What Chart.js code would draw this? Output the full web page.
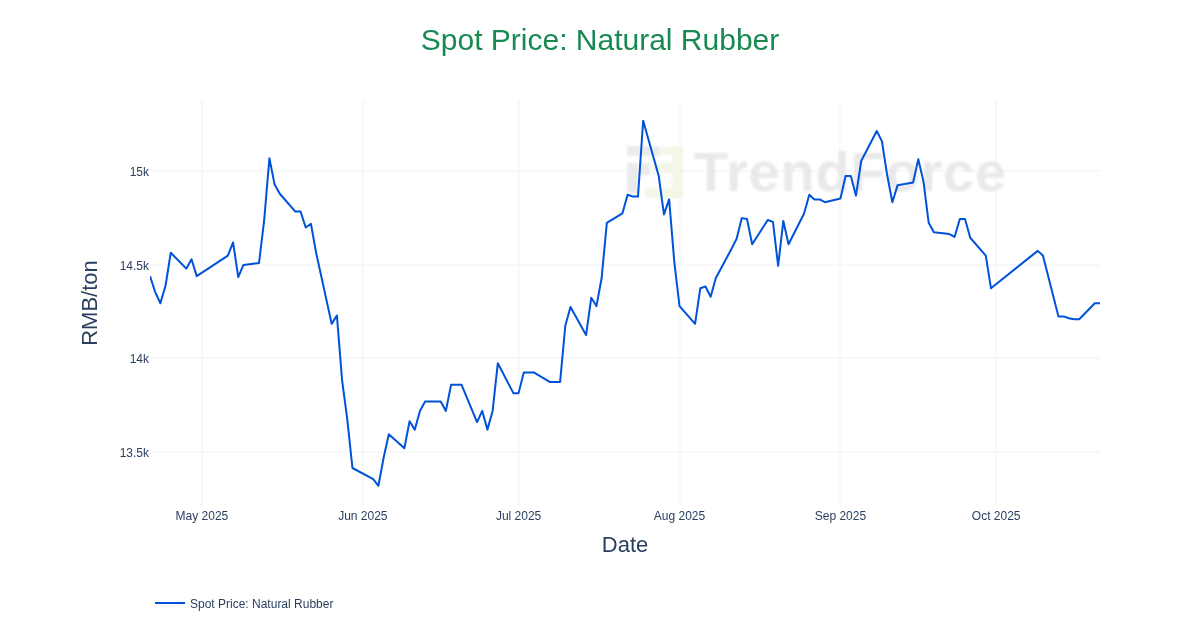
<!DOCTYPE html>
<html>
<head>
<meta charset="utf-8">
<title>Spot Price: Natural Rubber</title>
<style>
  html, body { margin: 0; padding: 0; background: #fff; }
  #wrap { width: 1200px; height: 630px; }
</style>
<script src="https://cdn.jsdelivr.net/npm/chart.js@4"></script>
</head>
<body>
<div id="wrap"><canvas id="chart" width="1200" height="630"></canvas></div>
<script>
// Trading days and daily spot prices (RMB/ton)
const dates = [
  "2025-04-21","2025-04-22","2025-04-23","2025-04-24","2025-04-25","2025-04-28","2025-04-29","2025-04-30",
  "2025-05-06","2025-05-07","2025-05-08","2025-05-09","2025-05-12","2025-05-13","2025-05-14","2025-05-15","2025-05-16",
  "2025-05-19","2025-05-20","2025-05-21","2025-05-22","2025-05-23","2025-05-26","2025-05-27","2025-05-28","2025-05-29","2025-05-30",
  "2025-06-03","2025-06-04","2025-06-05","2025-06-06","2025-06-09","2025-06-10","2025-06-11","2025-06-12","2025-06-13",
  "2025-06-16","2025-06-17","2025-06-18","2025-06-19","2025-06-20","2025-06-23","2025-06-24","2025-06-25","2025-06-26","2025-06-27",
  "2025-06-30","2025-07-01","2025-07-02","2025-07-03","2025-07-04","2025-07-07","2025-07-08","2025-07-09","2025-07-10","2025-07-11",
  "2025-07-14","2025-07-15","2025-07-16","2025-07-17","2025-07-18","2025-07-21","2025-07-22","2025-07-23","2025-07-24","2025-07-25",
  "2025-07-28","2025-07-29","2025-07-30","2025-07-31","2025-08-01","2025-08-04","2025-08-05","2025-08-06","2025-08-07","2025-08-08",
  "2025-08-11","2025-08-12","2025-08-13","2025-08-14","2025-08-15","2025-08-18","2025-08-19","2025-08-20","2025-08-21","2025-08-22",
  "2025-08-25","2025-08-26","2025-08-27","2025-08-28","2025-08-29","2025-09-01","2025-09-02","2025-09-03","2025-09-04","2025-09-05",
  "2025-09-08","2025-09-09","2025-09-10","2025-09-11","2025-09-12","2025-09-15","2025-09-16","2025-09-17","2025-09-18","2025-09-19",
  "2025-09-22","2025-09-23","2025-09-24","2025-09-25","2025-09-26","2025-09-29","2025-09-30",
  "2025-10-09","2025-10-10","2025-10-13","2025-10-14","2025-10-15","2025-10-16","2025-10-17","2025-10-20","2025-10-21"
];
const prices = [
  14440,14355,14295,14390,14565,14480,14530,14440,
  14550,14620,14435,14500,14510,14740,15070,14930,14880,
  14785,14785,14700,14720,14565,14185,14230,13885,13675,13415,
  13355,13320,13470,13595,13520,13665,13620,13720,13770,
  13770,13720,13860,13860,13860,13660,13720,13620,13720,13975,
  13815,13815,13925,13925,13925,13875,13875,13875,14175,14275,
  14125,14325,14280,14430,14725,14775,14875,14865,14865,15270,
  14975,14770,14850,14515,14280,14185,14375,14385,14330,14430,
  14585,14640,14750,14745,14610,14740,14730,14495,14735,14610,
  14775,14875,14850,14850,14835,14855,14975,14975,14870,15055,
  15215,15160,14980,14835,14925,14940,15065,14945,14725,14675,
  14665,14650,14745,14745,14645,14550,14375,
  14575,14550,14225,14225,14215,14210,14210,14295,14295
];
const monthTicks = ["2025-05-01","2025-06-01","2025-07-01","2025-08-01","2025-09-01","2025-10-01"];
const monthLabels = ["May 2025","Jun 2025","Jul 2025","Aug 2025","Sep 2025","Oct 2025"];
const priceTicks = [13500,14000,14500,15000];
const priceTickLabels = ["13.5k","14k","14.5k","15k"];
const seriesName = "Spot Price: Natural Rubber";

const FONT = '"Liberation Sans", Arial, sans-serif';
const INK = "#2a3f5f";
const LINE = "#0052d9";
const GRID = "#f8f8fa";
const ts = d => Date.parse(d + "T00:00:00Z");

// Legend swatch: a 2px line sitting slightly above the text's centre
function makeSwatch() {
  const s = document.createElement("canvas");
  s.width = 31; s.height = 8;
  const g = s.getContext("2d");
  g.fillStyle = LINE;
  g.fillRect(1, 1, 30, 2);
  return s;
}

// Faint company mark sitting behind the price line
const brandMark = {
  id: "brandMark",
  beforeDatasetsDraw(chart) {
    const c = chart.ctx;
    c.save();
    c.filter = "blur(1.2px)";
    c.fillStyle = "#ebebeb";
    c.fillRect(627, 146, 33, 10);
    c.fillRect(627, 163, 11, 30);
    c.fillRect(640, 163, 10, 12);
    c.fillStyle = "#f3f7e8";
    c.fillRect(660, 147, 23, 8);
    c.fillRect(652, 163, 31, 10);
    c.fillRect(672, 147, 11, 51);
    c.fillRect(645, 188, 38, 10);
    c.fillStyle = "#e9e9e9";
    c.font = "bold 56px " + FONT;
    c.letterSpacing = "0.8px";
    c.textAlign = "left";
    c.textBaseline = "alphabetic";
    c.fillText("TrendForce", 694, 191);
    c.restore();
  }
};

// Free the title and legend from the plot's side margins
const placeBlocks = {
  id: "placeBlocks",
  afterLayout(chart) {
    const t = chart.titleBlock;
    t.left = 0; t.right = 1200; t.width = 1200;
    const l = chart.legend;
    l.left = 145; l.right = 500; l.width = 355;
    const h = l.height;
    l.top = 605 - h / 2; l.bottom = l.top + h;
  },
  // Value labels sit a little below their grid lines
  beforeDraw(chart) {
    chart.scales.y.getLabelItems().forEach(item => {
      if (!item.options.nudged) {
        item.options.translation = [item.options.translation[0], item.options.translation[1] + 1.5];
        item.options.nudged = true;
      }
    });
  }
};

new Chart(document.getElementById("chart"), {
  type: "line",
  data: {
    datasets: [{
      label: seriesName,
      data: dates.map((d, i) => ({ x: ts(d), y: prices[i] })),
      borderColor: LINE,
      backgroundColor: LINE,
      borderWidth: 2,
      pointRadius: 0,
      tension: 0,
      borderJoinStyle: "round",
      fill: false
    }]
  },
  plugins: [brandMark, placeBlocks],
  options: {
    responsive: false,
    animation: false,
    layout: { padding: { left: 77.5, right: 100, top: 0, bottom: 0 } },
    plugins: {
      tooltip: { enabled: false },
      title: {
        display: true,
        text: seriesName,
        color: "#178a52",
        font: { family: FONT, size: 30, weight: "normal", lineHeight: 1.2 },
        padding: { top: 24, bottom: 40 }
      },
      legend: {
        position: "bottom",
        align: "start",
        labels: {
          usePointStyle: true,
          pointStyle: makeSwatch(),
          pointStyleWidth: 29,
          padding: 10,
          color: INK,
          font: { family: FONT, size: 12 }
        }
      }
    },
    scales: {
      x: {
        type: "linear",
        min: ts("2025-04-21"),
        max: ts("2025-10-21"),
        afterFit(s) { s.height = 92; },
        afterBuildTicks(s) { s.ticks = monthTicks.map(d => ({ value: ts(d) })); },
        grid: { color: GRID, lineWidth: 2, drawTicks: false },
        border: { display: false },
        title: {
          display: true,
          text: "Date",
          color: INK,
          font: { family: FONT, size: 22, weight: "normal", lineHeight: 1.2 },
          padding: { top: 0, bottom: 39 }
        },
        ticks: {
          autoSkip: false,
          maxRotation: 0,
          padding: 3,
          color: INK,
          font: { family: FONT, size: 12 },
          callback(v) { return monthLabels[monthTicks.findIndex(d => ts(d) === v)]; }
        }
      },
      y: {
        min: 13212,
        max: 15381,
        afterFit(s) { s.width = 72.5; },
        afterBuildTicks(s) { s.ticks = priceTicks.map(v => ({ value: v })); },
        grid: { color: GRID, lineWidth: 2, drawTicks: false },
        border: { display: false },
        title: {
          display: true,
          text: "RMB/ton",
          color: INK,
          font: { family: FONT, size: 22, weight: "normal", lineHeight: 1.2 },
          padding: { top: 0, bottom: 0 }
        },
        ticks: {
          padding: 1,
          color: INK,
          font: { family: FONT, size: 12 },
          callback(v) { return priceTickLabels[priceTicks.indexOf(v)]; }
        }
      }
    }
  }
});
</script>
</body>
</html>
